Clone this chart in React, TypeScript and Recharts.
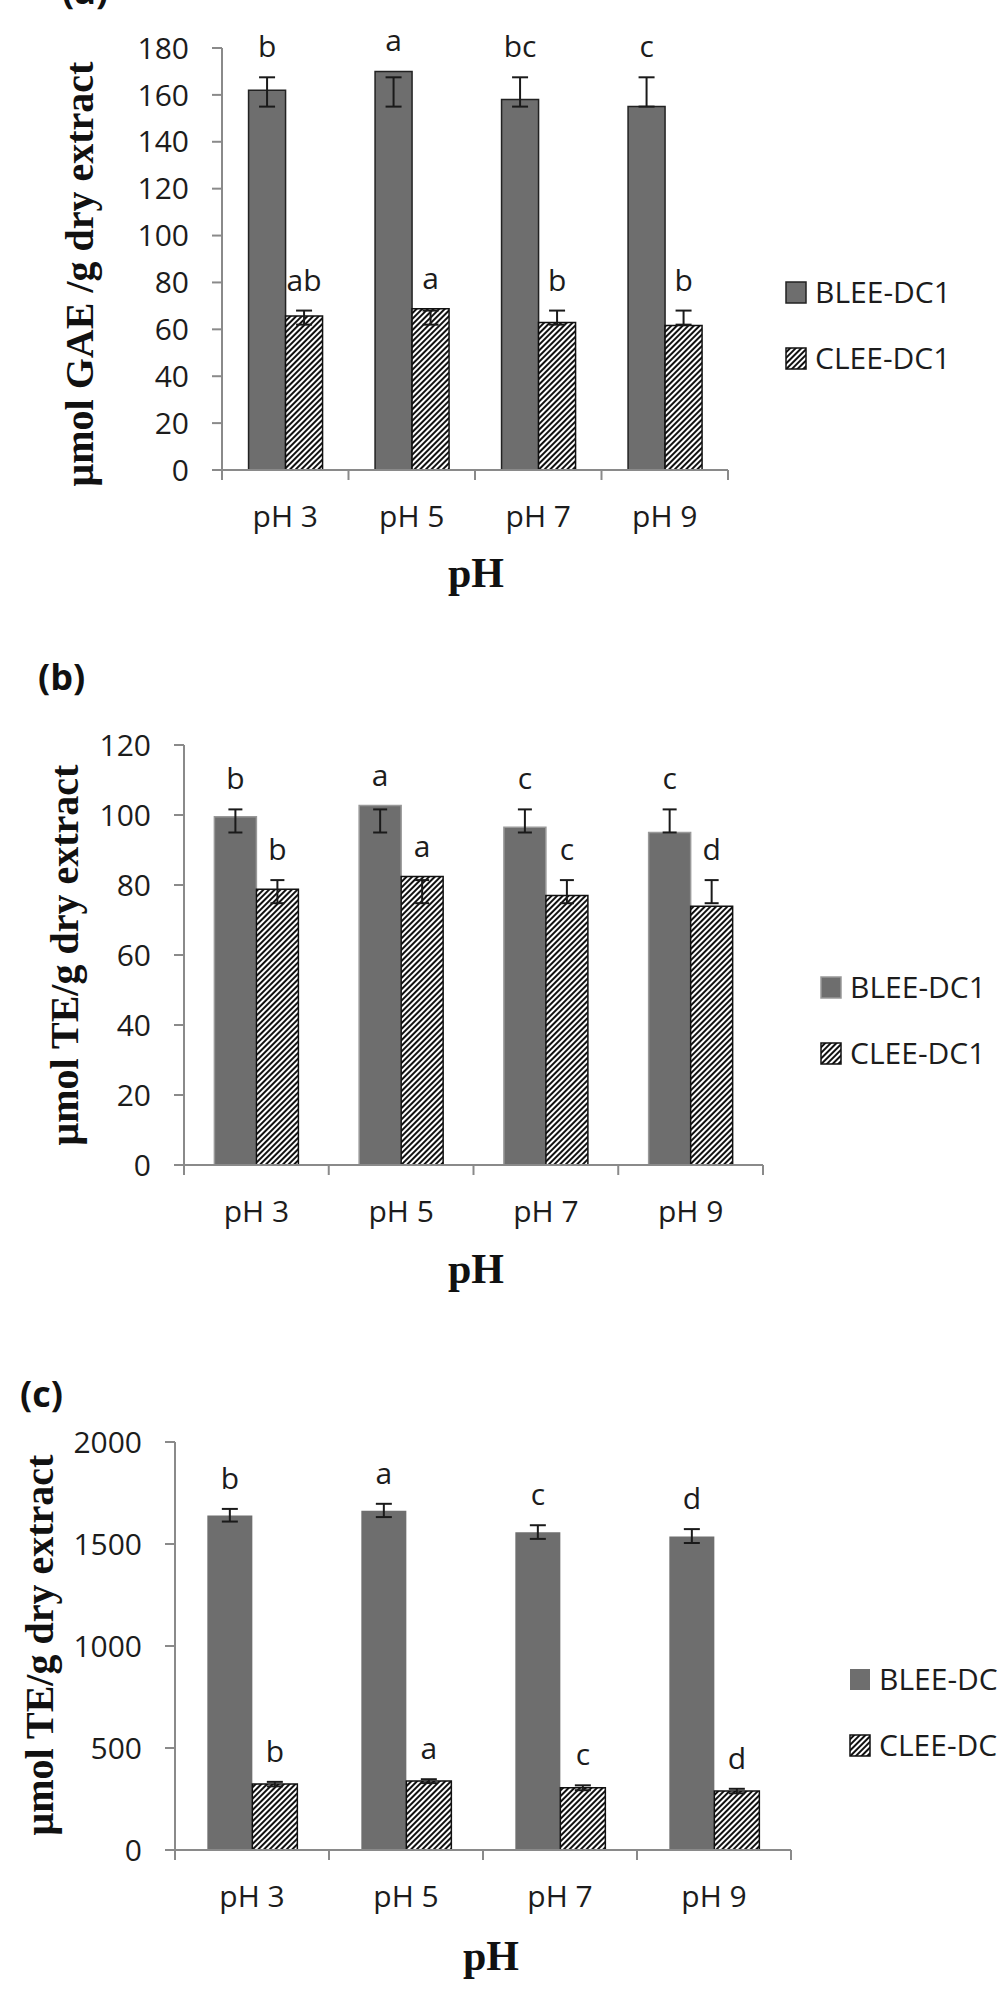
import React from 'react';
import { BarChart, Bar, XAxis, YAxis, ErrorBar, LabelList, Legend } from 'recharts';

const categories = ['pH 3', 'pH 5', 'pH 7', 'pH 9'];

// (a) total phenolics, µmol GAE / g dry extract
const aBlee = [162, 170, 158, 155];
const aBleeLow = [155, 155, 155, 155];
const aBleeHigh = [167.5, 167.5, 167.5, 167.5];
const aClee = [65.7, 68.8, 62.9, 61.6];
const aCleeLow = [62, 62, 62, 62];
const aCleeHigh = [68, 68, 68, 68];
const aBleeLetters = ['b', 'a', 'bc', 'c'];
const aCleeLetters = ['ab', 'a', 'b', 'b'];
const aTicks = [0, 20, 40, 60, 80, 100, 120, 140, 160, 180];

// (b) µmol TE / g dry extract
const bBlee = [99.5, 102.7, 96.5, 95];
const bBleeLow = [95, 95, 95, 95];
const bBleeHigh = [101.6, 101.6, 101.6, 101.6];
const bClee = [78.8, 82.4, 77, 73.9];
const bCleeLow = [74.8, 74.8, 74.8, 74.8];
const bCleeHigh = [81.4, 81.4, 81.4, 81.4];
const bBleeLetters = ['b', 'a', 'c', 'c'];
const bCleeLetters = ['b', 'a', 'c', 'd'];
const bTicks = [0, 20, 40, 60, 80, 100, 120];

// (c) µmol TE / g dry extract
const cBlee = [1640, 1663, 1557, 1537];
const cBleeLow = [1610, 1632, 1525, 1505];
const cBleeHigh = [1672, 1697, 1592, 1573];
const cClee = [323, 338, 305, 289];
const cCleeLow = [312, 328, 293, 278];
const cCleeHigh = [334, 347, 317, 300];
const cBleeLetters = ['b', 'a', 'c', 'd'];
const cCleeLetters = ['b', 'a', 'c', 'd'];
const cTicks = [0, 500, 1000, 1500, 2000];

const names1 = ['BLEE-DC1', 'CLEE-DC1'];
const names2 = ['BLEE-DC', 'CLEE-DC'];

const AXIS = '#8a8a8a';
const INK = '#1c1c1c';
const BAR = '#6e6e6e';
const SANS = 'Open Sans';
const SERIF = 'Liberation Serif';
const FS = 30;

type PanelProps = {
  id: string;
  top: number;
  height: number;
  plot: { left: number; right: number; top: number; bottom: number };
  blee: number[];
  bleeLow: number[];
  bleeHigh: number[];
  bleeLetters: string[];
  clee: number[];
  cleeLow: number[];
  cleeHigh: number[];
  cleeLetters: string[];
  ticks: number[];
  names: string[];
  yTitle: string;
  yTitleX: number;
  yTitleY: number;
  xTitleX: number;
  xTitleY: number;
  legendLeft: number;
  legendTop: number;
  bleeStroke: string;
  capWidth: number;
};

function HatchDef({ id }: { id: string }) {
  return (
    <pattern id={id} patternUnits="userSpaceOnUse" width={4} height={4} patternTransform="rotate(45)">
      <rect width={4} height={4} fill="#fff" />
      <rect width={2} height={4} fill="#111" />
    </pattern>
  );
}

function letterContent(values: number[], highs: number[], letters: string[]) {
  return (props: any) => {
    const vb = props.viewBox && props.viewBox.width !== undefined ? props.viewBox : props;
    const { x, y, width, height } = vb;
    const i = props.index ?? 0;
    const perUnit = height / values[i];
    const errTop = y + height - highs[i] * perUnit;
    const top = Math.min(y, errTop);
    return (
      <text x={x + width / 2} y={top - 20} textAnchor="middle" fontSize={FS} fontFamily={SANS} fill={INK}>
        {letters[i]}
      </text>
    );
  };
}

function Panel(p: PanelProps) {
  const rows = categories.map((cat, i) => ({
    cat,
    blee: p.blee[i],
    clee: p.clee[i],
    bleeErr: [p.blee[i] - p.bleeLow[i], p.bleeHigh[i] - p.blee[i]],
    cleeErr: [p.clee[i] - p.cleeLow[i], p.cleeHigh[i] - p.clee[i]],
  }));
  const yW = 100;
  const xH = 100;
  const margin = {
    top: p.plot.top,
    right: 1000 - p.plot.right,
    left: p.plot.left - yW,
    bottom: p.height - p.plot.bottom - xH,
  };
  const half = (p.plot.right - p.plot.left) / categories.length / 2;
  const hatchId = `hatch-${p.id}`;
  const legendHatch = `legend-hatch-${p.id}`;
  const legendW = Math.min(200, 998 - p.legendLeft);
  const pad = 14;

  const xTick = (t: any) => {
    const last = t.payload && t.payload.value === categories[categories.length - 1];
    return (
      <g>
        <line x1={t.x - half} x2={t.x - half} y1={t.y} y2={t.y + 10} stroke={AXIS} strokeWidth={2} />
        {last && <line x1={t.x + half} x2={t.x + half} y1={t.y} y2={t.y + 10} stroke={AXIS} strokeWidth={2} />}
        <text x={t.x} y={t.y + 57} textAnchor="middle" fontSize={FS} fontFamily={SANS} fill={INK}>
          {t.payload.value}
        </text>
      </g>
    );
  };

  const legendContent = () => (
    <svg width={legendW} height={124} style={{ display: 'block' }}>
      <defs>
        <HatchDef id={legendHatch} />
      </defs>
      <rect x={1} y={pad + 1} width={20} height={21} fill={BAR} stroke={p.bleeStroke} strokeWidth={p.bleeStroke === 'none' ? 0 : 1.5} />
      <text x={30} y={pad + 22} fontSize={FS} fontFamily={SANS} fill={INK}>{p.names[0]}</text>
      <rect x={1} y={pad + 67} width={20} height={21} fill={`url(#${legendHatch})`} stroke="#111" strokeWidth={1.5} />
      <text x={30} y={pad + 88} fontSize={FS} fontFamily={SANS} fill={INK}>{p.names[1]}</text>
    </svg>
  );

  return (
    <div style={{ position: 'absolute', left: 0, top: p.top, width: 1000, height: p.height }}>
      <BarChart width={1000} height={p.height} data={rows} margin={margin} barCategoryGap="21%" barGap={0}>
        <defs>
          <HatchDef id={hatchId} />
        </defs>
        <XAxis
          dataKey="cat"
          height={xH}
          axisLine={{ stroke: AXIS, strokeWidth: 2 }}
          tickLine={false}
          tickSize={0}
          tickMargin={0}
          tick={xTick}
          interval={0}
          label={() => (
            <text x={p.xTitleX} y={p.xTitleY - p.top} textAnchor="middle" fontSize={42} fontWeight="bold" fontFamily={SERIF} fill="#111">
              pH
            </text>
          )}
        />
        <YAxis
          width={yW}
          domain={[0, p.ticks[p.ticks.length - 1]]}
          ticks={p.ticks}
          interval={0}
          axisLine={{ stroke: AXIS, strokeWidth: 2 }}
          tickLine={{ stroke: AXIS, strokeWidth: 2 }}
          tickSize={10}
          tickMargin={23}
          tick={{ fontSize: FS, fontFamily: SANS, fill: INK }}
          label={() => (
            <text
              transform={`translate(${p.yTitleX},${p.yTitleY - p.top}) rotate(-90)`}
              textAnchor="middle"
              fontSize={40}
              fontWeight="bold"
              fontFamily={SERIF}
              fill="#111"
            >
              {p.yTitle}
            </text>
          )}
        />
        <Legend
          layout="vertical"
          align="center"
          verticalAlign="middle"
          wrapperStyle={{ left: p.legendLeft - 1, top: p.legendTop - 1 - pad, width: legendW }}
          content={legendContent}
        />
        <Bar
          dataKey="blee"
          name={p.names[0]}
          fill={BAR}
          stroke={p.bleeStroke}
          strokeWidth={p.bleeStroke === 'none' ? 0 : 1.5}
          isAnimationActive={false}
        >
          <ErrorBar dataKey="bleeErr" width={p.capWidth} stroke="#1a1a1a" strokeWidth={2} isAnimationActive={false} />
          <LabelList dataKey="blee" content={letterContent(p.blee, p.bleeHigh, p.bleeLetters)} />
        </Bar>
        <Bar
          dataKey="clee"
          name={p.names[1]}
          fill={`url(#${hatchId})`}
          stroke="#111"
          strokeWidth={1.5}
          isAnimationActive={false}
        >
          <ErrorBar dataKey="cleeErr" width={p.capWidth} stroke="#1a1a1a" strokeWidth={2} isAnimationActive={false} />
          <LabelList dataKey="clee" content={letterContent(p.clee, p.cleeHigh, p.cleeLetters)} />
        </Bar>
      </BarChart>
    </div>
  );
}

export default function App() {
  return (
    <div style={{ position: 'absolute', left: 0, top: 0, width: 1000, height: 1994, background: '#fff', overflow: 'hidden' }}>
      <Panel
        id="a"
        top={0}
        height={620}
        plot={{ left: 222, right: 728, top: 48, bottom: 470 }}
        blee={aBlee}
        bleeLow={aBleeLow}
        bleeHigh={aBleeHigh}
        bleeLetters={aBleeLetters}
        clee={aClee}
        cleeLow={aCleeLow}
        cleeHigh={aCleeHigh}
        cleeLetters={aCleeLetters}
        ticks={aTicks}
        names={names1}
        yTitle="μmol GAE /g dry extract"
        yTitleX={93}
        yTitleY={274}
        xTitleX={476}
        xTitleY={587}
        legendLeft={786}
        legendTop={282}
        bleeStroke="#222"
        capWidth={8}
      />
      <Panel
        id="b"
        top={620}
        height={700}
        plot={{ left: 184, right: 763, top: 125, bottom: 545 }}
        blee={bBlee}
        bleeLow={bBleeLow}
        bleeHigh={bBleeHigh}
        bleeLetters={bBleeLetters}
        clee={bClee}
        cleeLow={bCleeLow}
        cleeHigh={bCleeHigh}
        cleeLetters={bCleeLetters}
        ticks={bTicks}
        names={names1}
        yTitle="μmol TE/g dry extract"
        yTitleX={78}
        yTitleY={955}
        xTitleX={476}
        xTitleY={1283}
        legendLeft={821}
        legendTop={357}
        bleeStroke="#999"
        capWidth={7}
      />
      <Panel
        id="c"
        top={1320}
        height={674}
        plot={{ left: 175, right: 791, top: 122, bottom: 530 }}
        blee={cBlee}
        bleeLow={cBleeLow}
        bleeHigh={cBleeHigh}
        bleeLetters={cBleeLetters}
        clee={cClee}
        cleeLow={cCleeLow}
        cleeHigh={cCleeHigh}
        cleeLetters={cCleeLetters}
        ticks={cTicks}
        names={names2}
        yTitle="μmol TE/g dry extract"
        yTitleX={53}
        yTitleY={1645}
        xTitleX={491}
        xTitleY={1970}
        legendLeft={850}
        legendTop={349}
        bleeStroke="none"
        capWidth={8}
      />
      <svg width={1000} height={1994} style={{ position: 'absolute', left: 0, top: 0, pointerEvents: 'none' }}>
        <g fontFamily={SANS} fontWeight="bold" fontSize={36} fill="#111">
          <text x={62} y={4}>(a)</text>
          <text x={38} y={690}>(b)</text>
          <text x={20} y={1407}>(c)</text>
        </g>
      </svg>
    </div>
  );
}
